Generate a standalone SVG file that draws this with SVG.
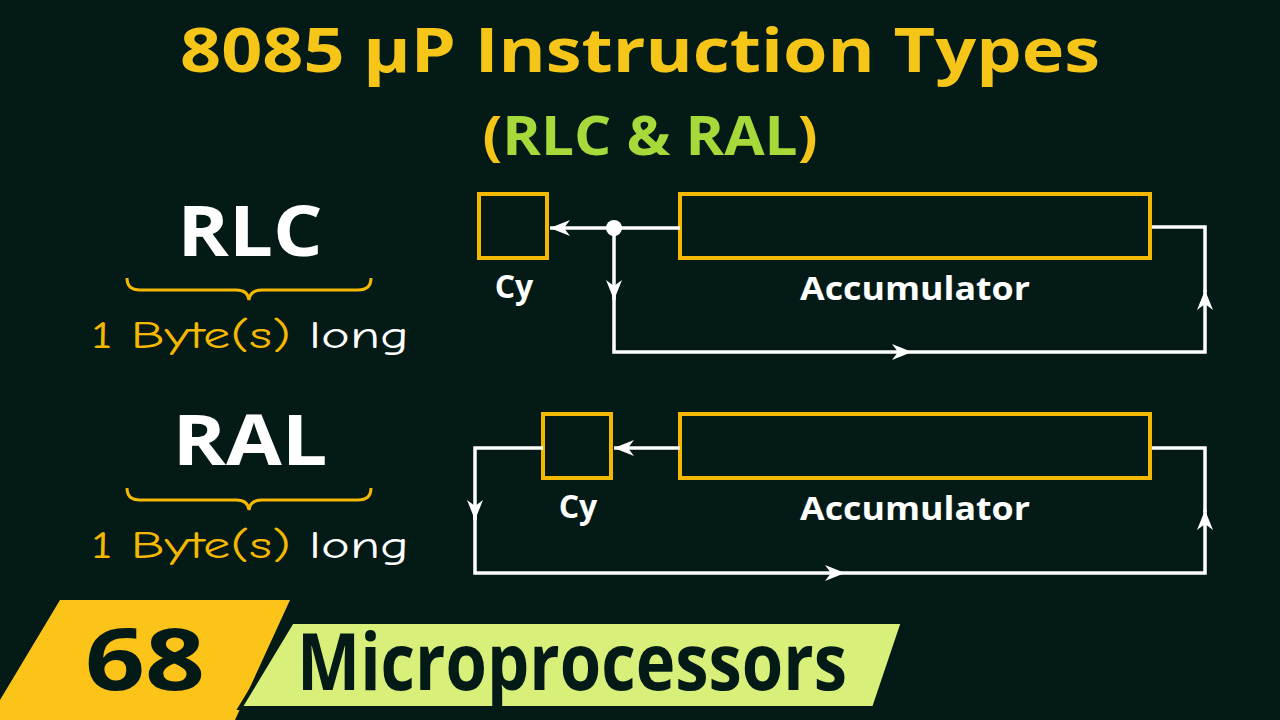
<svg xmlns="http://www.w3.org/2000/svg" width="1280" height="720" viewBox="0 0 1280 720">
<defs>
<style>
.t{font-family:"Open Sans","DejaVu Sans",sans-serif;font-weight:bold}
.box{fill:none;stroke:#f5b800;stroke-width:4}
.w{fill:none;stroke:#fff;stroke-width:3.5}
.lbl{font-family:"Open Sans","DejaVu Sans",sans-serif;font-weight:bold;font-size:32px;fill:#fff}
.sub{font-family:"Comic Neue","DejaVu Sans",sans-serif;font-size:38px}
</style>
<marker id="a" markerWidth="24" markerHeight="18" refX="20" refY="9" orient="auto" markerUnits="userSpaceOnUse"><path d="M0,1 L20,9 L0,17 L6,9 Z" fill="#fff"/></marker>
</defs>
<rect width="1280" height="720" fill="#041a17"/>
<text x="640" y="72" text-anchor="middle" class="t" font-size="60" fill="#f5c518" textLength="920" lengthAdjust="spacingAndGlyphs">8085 μP Instruction Types</text>
<text x="650" y="155" text-anchor="middle" class="t" font-size="54" textLength="335" lengthAdjust="spacingAndGlyphs"><tspan fill="#f5c518">(</tspan><tspan fill="#a6d93a">RLC &amp; RAL</tspan><tspan fill="#f5c518">)</tspan></text>
<g id="rlc-label">
<text x="250" y="256" text-anchor="middle" class="t" font-size="70" fill="#fff" textLength="145" lengthAdjust="spacingAndGlyphs">RLC</text>
<path d="M127,278 Q127,290 140,290 L236,290 Q248,290 249,300 Q250,290 262,290 L358,290 Q371,290 371,278" fill="none" stroke="#f5b800" stroke-width="3"/>
<text x="250" y="348" text-anchor="middle" class="sub" textLength="318" lengthAdjust="spacingAndGlyphs"><tspan fill="#f5b800">1 Byte(s)</tspan><tspan fill="#fff"> long</tspan></text>
</g>
<g id="ral-label">
<text x="250" y="465" text-anchor="middle" class="t" font-size="70" fill="#fff" textLength="155" lengthAdjust="spacingAndGlyphs">RAL</text>
<path d="M127,488 Q127,500 140,500 L236,500 Q248,500 249,510 Q250,500 262,500 L358,500 Q371,500 371,488" fill="none" stroke="#f5b800" stroke-width="3"/>
<text x="250" y="558" text-anchor="middle" class="sub" textLength="318" lengthAdjust="spacingAndGlyphs"><tspan fill="#f5b800">1 Byte(s)</tspan><tspan fill="#fff"> long</tspan></text>
</g>
<g id="cy1"><rect x="479" y="194" width="68" height="64" class="box"/><text x="514" y="298" text-anchor="middle" class="lbl">Cy</text></g>
<g id="acc1"><rect x="680" y="194" width="470" height="64" class="box"/><text x="915" y="300" text-anchor="middle" class="lbl" textLength="230" lengthAdjust="spacingAndGlyphs">Accumulator</text></g>
<g id="cy2"><rect x="543" y="414" width="68" height="64" class="box"/><text x="578" y="518" text-anchor="middle" class="lbl">Cy</text></g>
<g id="acc2"><rect x="680" y="414" width="470" height="64" class="box"/><text x="915" y="520" text-anchor="middle" class="lbl" textLength="230" lengthAdjust="spacingAndGlyphs">Accumulator</text></g>
<g id="connectors">
<line x1="680" y1="228" x2="550" y2="228" class="w" marker-end="url(#a)"/>
<circle cx="614" cy="228" r="8" fill="#fff"/>
<line x1="614" y1="228" x2="614" y2="300" class="w" marker-end="url(#a)"/>
<polyline points="614,290 614,352 912,352" class="w" marker-end="url(#a)"/>
<polyline points="912,352 1205,352 1205,290" class="w" marker-end="url(#a)"/>
<polyline points="1205,292 1205,227 1152,227" class="w"/>
<line x1="680" y1="448" x2="614" y2="448" class="w" marker-end="url(#a)"/>
<polyline points="543,448 475,448 475,520" class="w" marker-end="url(#a)"/>
<polyline points="475,510 475,573 845,573" class="w" marker-end="url(#a)"/>
<polyline points="845,573 1205,573 1205,510" class="w" marker-end="url(#a)"/>
<polyline points="1205,512 1205,448 1152,448" class="w"/>
</g>
<polygon points="60,600 290,600 235,720 0,720 0,700" fill="#fcc419"/>
<text x="145" y="690" text-anchor="middle" class="t" font-size="86" fill="#041a17" textLength="120" lengthAdjust="spacingAndGlyphs">68</text>
<polygon points="292,622 903,622 874,708 240,708" fill="#d8f07a" stroke="#041a17" stroke-width="4"/>
<text x="572" y="690" text-anchor="middle" class="t" font-size="78" fill="#041a17" textLength="550" lengthAdjust="spacingAndGlyphs">Microprocessors</text>
</svg>
